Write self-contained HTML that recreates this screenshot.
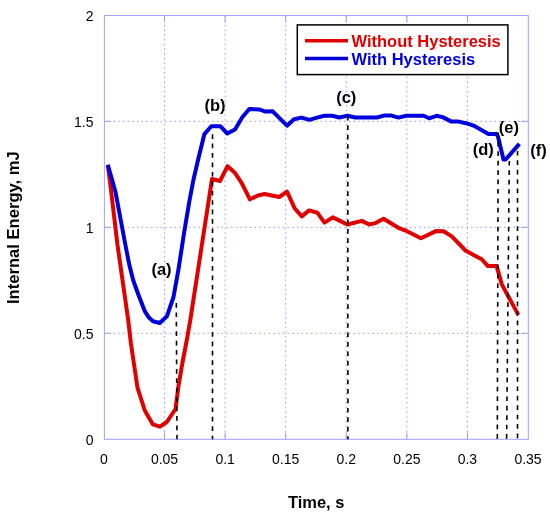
<!DOCTYPE html><html><head><meta charset="utf-8"><style>html,body{margin:0;padding:0;background:#fff;}svg{display:block;}</style></head><body>
<svg width="550" height="517" viewBox="0 0 550 517" font-family="'Liberation Sans', Arial, sans-serif">
<rect width="550" height="517" fill="#fff"/>
<line x1="164.53" y1="15.37" x2="164.53" y2="439.30" stroke="#9c9cf0" stroke-width="1" stroke-dasharray="1.6 3.1155"/>
<line x1="164.53" y1="432.30" x2="164.53" y2="439.30" stroke="#9c9cf0" stroke-width="1"/>
<line x1="164.53" y1="15.37" x2="164.53" y2="22.37" stroke="#9c9cf0" stroke-width="1"/>
<line x1="225.11" y1="15.37" x2="225.11" y2="439.30" stroke="#9c9cf0" stroke-width="1" stroke-dasharray="1.6 3.1155"/>
<line x1="225.11" y1="432.30" x2="225.11" y2="439.30" stroke="#9c9cf0" stroke-width="1"/>
<line x1="225.11" y1="15.37" x2="225.11" y2="22.37" stroke="#9c9cf0" stroke-width="1"/>
<line x1="285.69" y1="15.37" x2="285.69" y2="439.30" stroke="#9c9cf0" stroke-width="1" stroke-dasharray="1.6 3.1155"/>
<line x1="285.69" y1="432.30" x2="285.69" y2="439.30" stroke="#9c9cf0" stroke-width="1"/>
<line x1="285.69" y1="15.37" x2="285.69" y2="22.37" stroke="#9c9cf0" stroke-width="1"/>
<line x1="346.26" y1="15.37" x2="346.26" y2="439.30" stroke="#9c9cf0" stroke-width="1" stroke-dasharray="1.6 3.1155"/>
<line x1="346.26" y1="432.30" x2="346.26" y2="439.30" stroke="#9c9cf0" stroke-width="1"/>
<line x1="346.26" y1="15.37" x2="346.26" y2="22.37" stroke="#9c9cf0" stroke-width="1"/>
<line x1="406.84" y1="15.37" x2="406.84" y2="439.30" stroke="#9c9cf0" stroke-width="1" stroke-dasharray="1.6 3.1155"/>
<line x1="406.84" y1="432.30" x2="406.84" y2="439.30" stroke="#9c9cf0" stroke-width="1"/>
<line x1="406.84" y1="15.37" x2="406.84" y2="22.37" stroke="#9c9cf0" stroke-width="1"/>
<line x1="467.42" y1="15.37" x2="467.42" y2="439.30" stroke="#9c9cf0" stroke-width="1" stroke-dasharray="1.6 3.1155"/>
<line x1="467.42" y1="432.30" x2="467.42" y2="439.30" stroke="#9c9cf0" stroke-width="1"/>
<line x1="467.42" y1="15.37" x2="467.42" y2="22.37" stroke="#9c9cf0" stroke-width="1"/>
<line x1="104" y1="333.32" x2="528.00" y2="333.32" stroke="#9c9cf0" stroke-width="1" stroke-dasharray="1.6 3.106"/>
<line x1="103.95" y1="333.32" x2="110.95" y2="333.32" stroke="#9c9cf0" stroke-width="1"/>
<line x1="521.00" y1="333.32" x2="528.00" y2="333.32" stroke="#9c9cf0" stroke-width="1"/>
<line x1="104" y1="227.34" x2="528.00" y2="227.34" stroke="#9c9cf0" stroke-width="1" stroke-dasharray="1.6 3.106"/>
<line x1="103.95" y1="227.34" x2="110.95" y2="227.34" stroke="#9c9cf0" stroke-width="1"/>
<line x1="521.00" y1="227.34" x2="528.00" y2="227.34" stroke="#9c9cf0" stroke-width="1"/>
<line x1="104" y1="121.35" x2="528.00" y2="121.35" stroke="#9c9cf0" stroke-width="1" stroke-dasharray="1.6 3.106"/>
<line x1="103.95" y1="121.35" x2="110.95" y2="121.35" stroke="#9c9cf0" stroke-width="1"/>
<line x1="521.00" y1="121.35" x2="528.00" y2="121.35" stroke="#9c9cf0" stroke-width="1"/>
<rect x="104.4" y="15.5" width="423.90" height="423.80" fill="none" stroke="#a4a4ff" stroke-width="1.05"/>
<polyline points="107.8,164.9 111,190 117.5,245 128.2,320 130.9,343.2 137.4,387.3 144.8,410.5 152.9,424.4 159.9,426.7 166.8,422 175.5,409 178.5,386 182.2,364 186.8,340 190.1,321.4 212,179 220,181 227.6,166.2 234.9,172.8 241.6,182.9 249.9,199.3 258,195.5 264.5,194 279.3,197 287,191.6 294.6,208.2 301.8,216.4 309.1,210.4 317.3,212.7 324.5,222.7 332.7,217.3 340,220.9 347.3,224.5 354.5,222.7 361.8,220.9 369.1,224.5 375.5,223.1 383.6,218.7 399.1,228.2 405.5,230.5 420.9,238.2 436.4,230.9 443.6,231.3 451.8,236.4 465.5,250.5 474.5,255.5 481.8,259.2 487.9,266.1 496.6,266.1 501.8,284.4 507.9,295.7 518.4,314.9" fill="none" stroke="#e00000" stroke-width="4" stroke-linejoin="round" stroke-linecap="butt"/>
<polyline points="107.8,164.7 115.5,192 125.5,245.5 129.3,264.8 133.2,280.3 138.5,295 144.8,311.2 148.9,317.6 153,321.3 159.8,323 166.9,316.3 173.5,297 178.5,269.2 183.9,234 189.3,201.6 193.4,180 198.5,158 204.4,134.1 211.3,126.2 220.3,126.2 227.3,133.5 235,129.5 242.3,117.3 249.3,109 259.1,109.4 265.6,111.6 272.7,111.3 279.8,118.3 287,125.7 294,119.2 301.6,117.6 309.3,119.8 316.9,117.6 324.5,115.7 332.2,115.7 339.2,117.5 347.6,115.7 355.3,117.5 376.9,117.5 383.9,115.6 391.5,115.6 398.5,117.6 406.2,115.7 423.6,115.8 429.1,118.3 436.6,115.8 442.6,117.1 451,121.4 458.5,121.6 466,123.2 473.5,125.6 481,129.8 488.5,134 496.5,134 497.9,136.3 503.5,159.5 505.6,159.5 519.4,143.9" fill="none" stroke="#0000dc" stroke-width="4" stroke-linejoin="round" stroke-linecap="butt"/>
<line x1="176.3" y1="303.0" x2="177.0" y2="439.30" stroke="#000" stroke-width="1.6" stroke-dasharray="4.7 4.72"/>
<line x1="212.5" y1="134.2" x2="212.5" y2="439.30" stroke="#000" stroke-width="1.6" stroke-dasharray="4.7 4.72"/>
<line x1="347.8" y1="115.9" x2="347.9" y2="439.30" stroke="#000" stroke-width="1.6" stroke-dasharray="4.7 4.72"/>
<line x1="498.2" y1="132.5" x2="497.3" y2="439.30" stroke="#000" stroke-width="1.6" stroke-dasharray="4.7 4.72"/>
<line x1="509.3" y1="160.9" x2="506.6" y2="439.30" stroke="#000" stroke-width="1.6" stroke-dasharray="4.7 4.72"/>
<line x1="517.5" y1="150.9" x2="517.5" y2="439.30" stroke="#000" stroke-width="1.6" stroke-dasharray="4.7 4.72"/>
<text x="161.5" y="274.8" font-size="16.5" font-weight="bold" text-anchor="middle" fill="#000">(a)</text>
<text x="215" y="111" font-size="16.5" font-weight="bold" text-anchor="middle" fill="#000">(b)</text>
<text x="346.3" y="102.7" font-size="16.5" font-weight="bold" text-anchor="middle" fill="#000">(c)</text>
<text x="483.2" y="155.2" font-size="16.5" font-weight="bold" text-anchor="middle" fill="#000">(d)</text>
<text x="508.9" y="133.2" font-size="16.5" font-weight="bold" text-anchor="middle" fill="#000">(e)</text>
<text x="538.6" y="155.5" font-size="16.5" font-weight="bold" text-anchor="middle" fill="#000">(f)</text>
<text x="93.5" y="444.80" font-size="14" text-anchor="end" fill="#000">0</text>
<text x="93.5" y="338.82" font-size="14" text-anchor="end" fill="#000">0.5</text>
<text x="93.5" y="232.84" font-size="14" text-anchor="end" fill="#000">1</text>
<text x="93.5" y="126.85" font-size="14" text-anchor="end" fill="#000">1.5</text>
<text x="93.5" y="20.87" font-size="14" text-anchor="end" fill="#000">2</text>
<text x="103.95" y="463.8" font-size="14" text-anchor="middle" fill="#000">0</text>
<text x="164.53" y="463.8" font-size="14" text-anchor="middle" fill="#000">0.05</text>
<text x="225.11" y="463.8" font-size="14" text-anchor="middle" fill="#000">0.1</text>
<text x="285.69" y="463.8" font-size="14" text-anchor="middle" fill="#000">0.15</text>
<text x="346.26" y="463.8" font-size="14" text-anchor="middle" fill="#000">0.2</text>
<text x="406.84" y="463.8" font-size="14" text-anchor="middle" fill="#000">0.25</text>
<text x="467.42" y="463.8" font-size="14" text-anchor="middle" fill="#000">0.3</text>
<text x="528.00" y="463.8" font-size="14" text-anchor="middle" fill="#000">0.35</text>
<text x="316.2" y="507.8" font-size="16.5" font-weight="bold" text-anchor="middle" fill="#000">Time, s</text>
<text transform="translate(19.3,227.6) rotate(-90)" x="0" y="0" font-size="16.6" font-weight="bold" text-anchor="middle" fill="#000">Internal Energy, mJ</text>
<rect x="297.3" y="24.9" width="210.6" height="49.7" fill="#fff" stroke="#000" stroke-width="1.5"/>
<line x1="305" y1="40.75" x2="348" y2="40.75" stroke="#e00000" stroke-width="3.6"/>
<line x1="305" y1="58.45" x2="348" y2="58.45" stroke="#0000dc" stroke-width="3.6"/>
<text x="351.5" y="47.4" font-size="16.5" font-weight="bold" fill="#e00000">Without Hysteresis</text>
<text x="351.5" y="64.8" font-size="16.5" font-weight="bold" fill="#0000dc">With Hysteresis</text>
</svg></body></html>
